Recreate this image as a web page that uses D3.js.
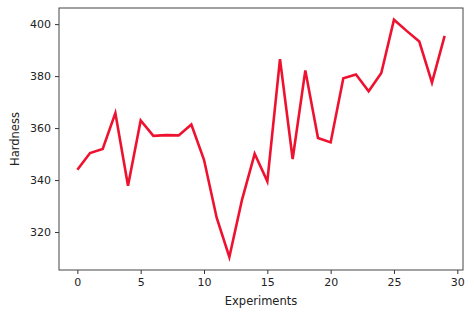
<!DOCTYPE html>
<html>
<head>
<meta charset="utf-8">
<script src="https://cdn.jsdelivr.net/npm/d3@7"></script>
<style>
  body { margin: 0; background: #fff; }
  text { font-family: "DejaVu Sans", sans-serif; }
</style>
</head>
<body>
<div id="chart"></div>
<script>
var experiments = d3.range(0, 30);
var hardness = [344, 350.4, 352, 365.8, 337.8, 362.9, 357, 357.3, 357.2, 361.4,
                347.8, 325.5, 310.4, 332.4, 350.1, 339.5, 386.5, 348.1, 382.2, 356.2,
                354.5, 379.2, 380.6, 374.2, 381.2, 401.7, 397.4, 393.3, 377.5, 395.5];
var xTicks = [0, 5, 10, 15, 20, 25, 30];
var yTicks = [320, 340, 360, 380, 400];

var margin = {top: 8, right: 11, bottom: 46, left: 59},
    width = 474 - margin.left - margin.right,
    height = 316 - margin.top - margin.bottom;

var svg = d3.select("#chart")
  .append("svg")
    .attr("width", 474)
    .attr("height", 316)
  .append("g")
    .attr("transform", "translate(" + margin.left + "," + margin.top + ")");

var x = d3.scaleLinear()
    .domain([-1.45, 30.45])
    .range([0, width]);

var y = d3.scaleLinear()
    .domain([305.4, 406.2])
    .range([height, 0]);

// x axis
var xAxis = svg.append("g")
    .attr("transform", "translate(0," + height + ")")
    .call(d3.axisBottom(x).tickValues(xTicks).tickSize(4).tickPadding(4).tickSizeOuter(0));

// y axis
var yAxis = svg.append("g")
    .call(d3.axisLeft(y).tickValues(yTicks).tickSize(4).tickPadding(4).tickSizeOuter(0));

[xAxis, yAxis].forEach(function(a) {
  a.selectAll("text").attr("font-size", 11).attr("fill", "#222");
  a.selectAll("line").attr("stroke", "#333");
  a.select(".domain").remove();
});

// frame
svg.append("rect")
    .attr("width", width)
    .attr("height", height)
    .attr("fill", "none")
    .attr("stroke", "#444")
    .attr("stroke-width", 1);

// the line
var line = d3.line()
    .x(function(d, i) { return x(experiments[i]); })
    .y(function(d) { return y(d); });

svg.append("path")
    .datum(hardness)
    .attr("fill", "none")
    .attr("stroke", "#ee1230")
    .attr("stroke-width", 2.6)
    .attr("stroke-linejoin", "miter")
    .attr("d", line);

// labels
svg.append("text")
    .attr("x", width / 2)
    .attr("y", height + 35)
    .attr("text-anchor", "middle")
    .attr("font-size", 11.5)
    .attr("fill", "#222")
    .text("Experiments");

svg.append("text")
    .attr("transform", "rotate(-90)")
    .attr("x", -height / 2)
    .attr("y", -40)
    .attr("text-anchor", "middle")
    .attr("font-size", 11.5)
    .attr("fill", "#222")
    .text("Hardness");
</script>
</body>
</html>
